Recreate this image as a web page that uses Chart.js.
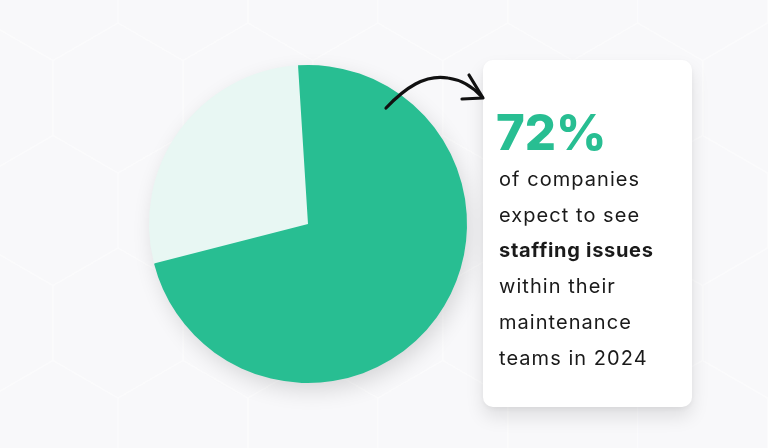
<!DOCTYPE html>
<html><head><meta charset="utf-8">
<script src="https://cdn.jsdelivr.net/npm/chart.js@4/dist/chart.umd.min.js"></script>
<style>
html,body{margin:0;padding:0;background:#f8f8fa;}
#wrap{position:relative;width:768px;height:448px;overflow:hidden;}
#c{position:absolute;left:0;top:0;}
#card{position:absolute;left:483px;top:60px;width:209px;height:347px;background:#fff;border-radius:10px;
box-shadow:0 10px 18px rgba(0,0,0,0.10),0 2px 6px rgba(0,0,0,0.05);}
#big{position:absolute;left:496px;top:103px;font-family:Inter,"Noto Sans",sans-serif;font-weight:800;font-size:49px;color:#28be92;line-height:60px;}
#body{position:absolute;left:499px;top:162px;font-family:Inter,"Noto Sans",sans-serif;font-size:20px;color:#1a1a1a;line-height:35.7px;letter-spacing:1.05px;}
#body b{font-weight:700;letter-spacing:0.7px;}
#arrow{position:absolute;left:0;top:0;}
</style></head>
<body><div id="wrap">
<canvas id="c" width="768" height="448"></canvas>
<div id="card"></div>
<div id="big"></div>
<div id="body"></div>
<svg id="arrow" width="768" height="448"><path d="M386 108 C 405 88, 425 74, 448 78 C 462 80, 474 88, 482 97" fill="none" stroke="#111" stroke-width="3.2" stroke-linecap="round"/><path d="M469 75 L 483 98 L 462 99" fill="none" stroke="#111" stroke-width="3.2" stroke-linecap="round" stroke-linejoin="round"/></svg>
</div>
<script>
const categories = ["Expect staffing issues", "Do not expect"];
const values = [72, 28];
const headline = "72%";
const lines = ["of companies", "expect to see", "<b>staffing issues</b>", "within their", "maintenance", "teams in 2024"];

document.getElementById('big').textContent = headline;
document.getElementById('body').innerHTML = lines.join('<br>');

const hexBg = {
  id:'hexBg',
  beforeDraw(chart){
    const ctx = chart.ctx;
    ctx.save();
    ctx.fillStyle = '#f8f8fa';
    ctx.fillRect(0,0,chart.width,chart.height);
    ctx.strokeStyle = '#fbfbfc';
    ctx.lineWidth = 1.2;
    const R = 75, w = Math.sqrt(3)*R, rowH = 1.5*R;
    for(let row=-1; row<6; row++){
      for(let col=-1; col<8; col++){
        const cx = 118 + col*w + ((row%2+2)%2 ? w/2 : 0);
        const cy = 98 + row*rowH;
        ctx.beginPath();
        for(let k=0;k<6;k++){
          const a = Math.PI/180*(60*k-90);
          const x = cx + R*Math.cos(a), y = cy + R*Math.sin(a);
          if(k===0) ctx.moveTo(x,y); else ctx.lineTo(x,y);
        }
        ctx.closePath();
        ctx.stroke();
      }
    }
    ctx.restore();
  },
  beforeDatasetsDraw(chart){
    const arc = chart.getDatasetMeta(0).data[0];
    if(!arc) return;
    const ctx = chart.ctx;
    ctx.save();
    ctx.shadowColor = 'rgba(0,0,0,0.14)';
    ctx.shadowBlur = 22;
    ctx.shadowOffsetX = 4;
    ctx.shadowOffsetY = 8;
    ctx.fillStyle = '#28be92';
    ctx.beginPath();
    ctx.arc(arc.x, arc.y, arc.outerRadius-1, 0, Math.PI*2);
    ctx.fill();
    ctx.restore();
  }
};

new Chart(document.getElementById('c'), {
  type:'pie',
  data:{labels:categories, datasets:[{data:values, backgroundColor:['#28be92','#e8f7f3'], borderWidth:0}]},
  options:{
    responsive:false, animation:false, rotation:-3.6,
    layout:{padding:{left:149,right:301,top:65,bottom:65}},
    plugins:{legend:{display:false}, tooltip:{enabled:false}}
  },
  plugins:[hexBg]
});
</script>
</body></html>
